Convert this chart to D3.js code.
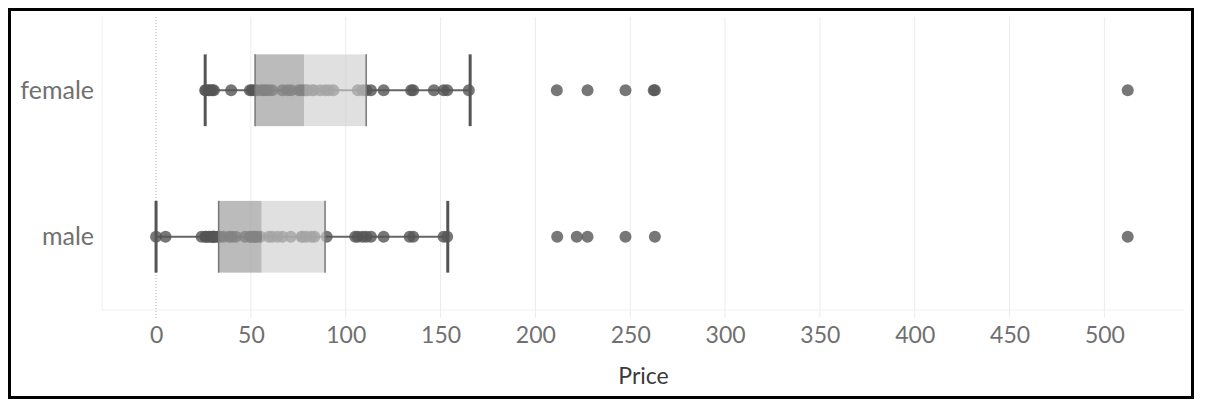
<!DOCTYPE html>
<html>
<head>
<meta charset="utf-8">
<script src="https://cdn.jsdelivr.net/npm/d3@7"></script>
<style>
  body { margin: 0; background: #fff; }
  svg { display: block; font-family: Lato, "Open Sans", sans-serif; }
</style>
</head>
<body>
<svg width="1207" height="408"></svg>
<script>
// categories and their summary stats
const groups = ["female", "male"]
const whiskerLow = [25.9, 0]
const q1 = [52.2, 33.0]
const median = [78.1, 55.7]
const q3 = [110.8, 89.1]
const whiskerHigh = [165.6, 153.8]

// individual fares
const femaleFares = [25.9, 26.3, 27.7, 28.5, 29.7, 30.5, 39.6, 49.5, 50.5, 51.9, 53.1,
  55.4, 56.9, 57.9, 59.4, 61.2, 66.6, 69.3, 71.3, 75.3, 76.7, 78.3, 79.2, 79.7, 82.2,
  83.2, 86.5, 89.1, 91.1, 93.5, 106.4, 108.9, 110.9, 113.3, 120, 134.5, 135.6, 146.5,
  151.6, 153.5, 164.9, 211.3, 227.5, 247.5, 262.4, 263, 512.3]
const maleFares = [0, 5, 24, 26, 26.3, 27.7, 28.5, 29.7, 30, 30.5, 31, 32.3, 33.5, 35.5,
  38.5, 40, 42, 46.9, 49.5, 50, 51.9, 52, 53.1, 55, 59.4, 61.2, 64, 66.6, 71, 76.7,
  77.3, 79.2, 81.9, 83.5, 90, 105, 106.4, 108.9, 110.9, 113.3, 120, 133.7, 135.6,
  151.6, 153.5, 211.5, 221.8, 227.5, 247.5, 263, 512.3]
const fares = [femaleFares, maleFares]

const xTicks = [0, 50, 100, 150, 200, 250, 300, 350, 400, 450, 500]

const svg = d3.select("svg")
const plot = { left: 102, right: 1185, top: 17, bottom: 310 }

const x = d3.scaleLinear().domain([-28.5, 542.5]).range([plot.left, plot.right])
const y = d3.scalePoint().domain(groups).range([plot.top, plot.bottom]).padding(0.5)
const boxH = y.step() * 0.49

// frame round the whole picture
svg.append("rect")
  .attr("x", 9.5).attr("y", 9.5)
  .attr("width", 1183).attr("height", 388)
  .attr("fill", "none").attr("stroke", "#000").attr("stroke-width", 3)

// grid lines
svg.append("g").selectAll("line")
  .data(xTicks.filter(d => d !== 0))
  .join("line")
  .attr("x1", d => x(d)).attr("x2", d => x(d))
  .attr("y1", plot.top).attr("y2", plot.bottom + 8)
  .attr("stroke", "#ececec").attr("stroke-width", 1)

svg.append("line")
  .attr("x1", plot.left).attr("x2", plot.left)
  .attr("y1", plot.top).attr("y2", plot.bottom)
  .attr("stroke", "#f0f0f0")
svg.append("line")
  .attr("x1", plot.left).attr("x2", plot.right)
  .attr("y1", plot.bottom).attr("y2", plot.bottom)
  .attr("stroke", "#f0f0f0")

// zero line, dotted
svg.append("line")
  .attr("x1", x(0)).attr("x2", x(0))
  .attr("y1", plot.top).attr("y2", plot.bottom + 8)
  .attr("stroke", "#aaa").attr("stroke-dasharray", "1,2")

// x axis labels
const xAxis = d3.axisBottom(x).tickValues(xTicks).tickSize(0).tickPadding(17)
const gx = svg.append("g")
  .attr("transform", `translate(0,${plot.bottom})`)
  .call(xAxis)
gx.select(".domain").remove()
gx.selectAll("text")
  .attr("font-size", 23)
  .attr("fill", "#707070")
  .attr("font-family", "Lato, sans-serif")

svg.append("text")
  .attr("x", (plot.left + plot.right) / 2).attr("y", 384)
  .attr("text-anchor", "middle")
  .attr("font-size", 23)
  .attr("fill", "#3a3a3a")
  .text("Price")

// category labels
svg.append("g").selectAll("text")
  .data(groups)
  .join("text")
  .attr("x", 94)
  .attr("y", d => y(d))
  .attr("dy", "0.34em")
  .attr("text-anchor", "end")
  .attr("font-size", 25)
  .attr("fill", "#707070")
  .text(d => d)

const rows = svg.append("g").selectAll("g")
  .data(groups)
  .join("g")
  .attr("transform", d => `translate(0,${y(d)})`)

// whisker line
rows.append("line")
  .attr("x1", (d, i) => x(whiskerLow[i]))
  .attr("x2", (d, i) => x(whiskerHigh[i]))
  .attr("stroke", "#666").attr("stroke-width", 2)

// points
rows.append("g").selectAll("circle")
  .data((d, i) => fares[i])
  .join("circle")
  .attr("cx", d => x(d))
  .attr("cy", 0)
  .attr("r", 6)
  .attr("fill", "#555")
  .attr("fill-opacity", 0.8)

// box, two halves laid over the points
rows.append("rect")
  .attr("x", (d, i) => x(q1[i]))
  .attr("y", -boxH / 2)
  .attr("width", (d, i) => x(median[i]) - x(q1[i]))
  .attr("height", boxH)
  .attr("fill", "#999").attr("fill-opacity", 0.67)
rows.append("rect")
  .attr("x", (d, i) => x(median[i]))
  .attr("y", -boxH / 2)
  .attr("width", (d, i) => x(q3[i]) - x(median[i]))
  .attr("height", boxH)
  .attr("fill", "#cfcfcf").attr("fill-opacity", 0.65)

// box edges
rows.selectAll("line.edge")
  .data((d, i) => [q1[i], q3[i]])
  .join("line")
  .attr("class", "edge")
  .attr("x1", d => x(d)).attr("x2", d => x(d))
  .attr("y1", -boxH / 2).attr("y2", boxH / 2)
  .attr("stroke", "#777").attr("stroke-width", 1.5)

// whisker caps
rows.selectAll("line.cap")
  .data((d, i) => [whiskerLow[i], whiskerHigh[i]])
  .join("line")
  .attr("class", "cap")
  .attr("x1", d => x(d)).attr("x2", d => x(d))
  .attr("y1", -boxH / 2).attr("y2", boxH / 2)
  .attr("stroke", "#555").attr("stroke-width", 3)
</script>
</body>
</html>
